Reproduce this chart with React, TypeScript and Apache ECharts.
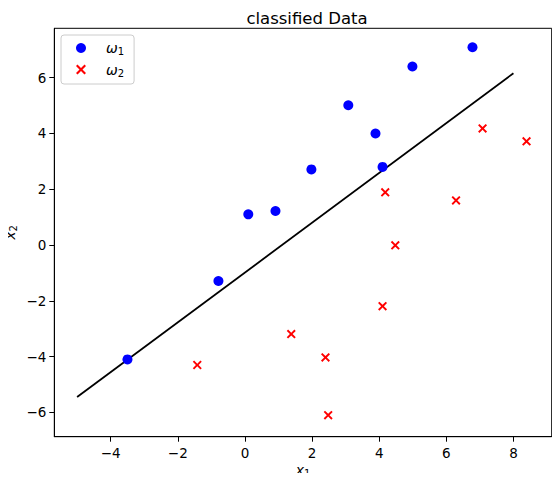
import { useEffect, useRef } from "react"
import * as echarts from "echarts"

// class ω1 (blue circles)
const class1X = [-3.5, -0.79, 0.1, 0.91, 1.98, 3.08, 3.89, 4.1, 4.99, 6.78]
const class1Y = [-4.1, -1.29, 1.1, 1.22, 2.71, 5.01, 4.0, 2.8, 6.4, 7.09]
// class ω2 (red crosses)
const class2X = [-1.42, 1.38, 2.4, 2.48, 4.1, 4.18, 4.48, 6.29, 7.08, 8.39]
const class2Y = [-4.3, -3.19, -4.03, -6.1, -2.19, 1.89, -0.01, 1.6, 4.18, 3.72]
// decision boundary end points
const boundaryX = [-5, 8]
const boundaryY = [-5.45, 6.16]

const xTicks = [-4, -2, 0, 2, 4, 6, 8]
const yTicks = [-6, -4, -2, 0, 2, 4, 6]

const crossPath =
  "path://M0,1.5L1.5,0L5,3.5L8.5,0L10,1.5L6.5,5L10,8.5L8.5,10L5,6.5L1.5,10L0,8.5L3.5,5Z"

const font = "DejaVu Sans"
const minus = (v: number) => String(v).replace("-", "\u2212")

const mathRich = {
  i: { fontFamily: font, fontStyle: "italic" as const, fontSize: 14, color: "#000" },
  s: { fontFamily: font, fontSize: 10, color: "#000", padding: [7, 0, 0, 0] },
}

export default function App() {
  const chartRef = useRef<HTMLDivElement>(null)

  useEffect(() => {
    if (!chartRef.current) return
    const chart = echarts.init(chartRef.current, null, { renderer: "svg" })

    const pts1 = class1X.map((x, i) => [x, class1Y[i]])
    const pts2 = class2X.map((x, i) => [x, class2Y[i]])
    const line = boundaryX.map((x, i) => [x, boundaryY[i]])

    chart.setOption({
      animation: false,
      backgroundColor: "#fff",
      title: {
        text: "classified Data",
        left: 302,
        textAlign: "center",
        top: 5,
        textStyle: { fontFamily: font, fontSize: 16.5, fontWeight: "normal", color: "#000" },
      },
      legend: {
        orient: "vertical",
        left: 61,
        top: 35,
        padding: [6, 10, 6, 15],
        itemGap: 6,
        itemWidth: 10,
        itemHeight: 10,
        borderColor: "#cccccc",
        borderWidth: 1,
        borderRadius: 3,
        backgroundColor: "rgba(255,255,255,0.8)",
        data: [
          { name: "ω1", icon: "circle" },
          { name: "ω2", icon: crossPath },
        ],
        formatter: (name: string) => `{i|${name[0]}}{s|${name.slice(1)}}`,
        textStyle: { padding: [0, 0, 0, 15], rich: mathRich },
      },
      grid: {
        left: 54.3,
        right: 8.3,
        top: 28.3,
        bottom: 44.3,
        outerBoundsMode: "none",
        containLabel: false,
        show: true,
        borderColor: "#000",
        borderWidth: 1,
      },
      xAxis: {
        type: "value",
        min: -5.68,
        max: 9.14,
        name: "{i|x}{s|1}",
        nameLocation: "middle",
        nameGap: 25,
        nameMoveOverlap: false,
        nameTextStyle: { rich: mathRich },
        splitLine: { show: false },
        axisLine: { onZero: false, lineStyle: { color: "#000", width: 1 } },
        axisTick: { customValues: xTicks, length: 5, lineStyle: { color: "#000" } },
        axisLabel: {
          customValues: xTicks,
          formatter: minus,
          margin: 9,
          fontFamily: font,
          fontSize: 13.5,
          color: "#000",
        },
      },
      yAxis: {
        type: "value",
        min: -6.87,
        max: 7.77,
        name: "{i|x}{s|2}",
        nameLocation: "middle",
        nameGap: 36,
        nameMoveOverlap: false,
        nameTextStyle: { rich: mathRich },
        splitLine: { show: false },
        axisLine: { show: true, onZero: false, lineStyle: { color: "#000", width: 1 } },
        axisTick: { show: true, customValues: yTicks, length: 5, lineStyle: { color: "#000" } },
        axisLabel: {
          customValues: yTicks,
          formatter: minus,
          margin: 8,
          fontFamily: font,
          fontSize: 13.5,
          color: "#000",
        },
      },
      series: [
        {
          name: "boundary",
          type: "line",
          data: line,
          symbol: "none",
          lineStyle: { color: "#000", width: 1.8 },
          z: 1,
        },
        {
          name: "ω1",
          type: "scatter",
          data: pts1,
          symbol: "circle",
          symbolSize: 10,
          itemStyle: { color: "#0000ff", opacity: 1 },
          z: 3,
        },
        {
          name: "ω2",
          type: "scatter",
          data: pts2,
          symbol: crossPath,
          symbolSize: 9,
          itemStyle: { color: "#ff0000", opacity: 1 },
          z: 3,
        },
      ],
    })

    return () => chart.dispose()
  }, [])

  return <div ref={chartRef} style={{ width: 560, height: 481, margin: -8 }} />
}
